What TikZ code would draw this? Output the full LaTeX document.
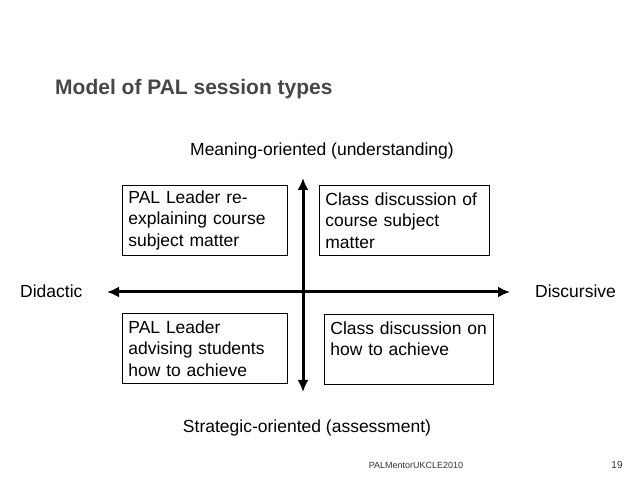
\documentclass[tikz,border=0pt]{standalone}
\usepackage{fontspec}
\setmainfont{Liberation Sans}
\usetikzlibrary{arrows.meta}

\begin{document}
\begin{tikzpicture}[x=1pt, y=-1pt,
  axis/.style={line width=3pt, {Latex[length=12pt,width=11pt]}-{Latex[length=12pt,width=11pt]}},
  label/.style={font=\fontsize{17.5}{21.5}\selectfont, inner sep=0pt},
  quad/.style={draw, line width=0.8pt, anchor=north west, align=left, inner xsep=6pt, inner ysep=4pt,
    minimum height=70pt, font=\fontsize{17.5}{21.5}\selectfont}]
\useasboundingbox[fill=white] (0,0) rectangle (638,478);

% title
\node[anchor=base west, inner sep=0pt, text=black!72, font=\fontsize{21}{25}\selectfont\bfseries] (title) at (55,95) {Model of PAL session types};

% axes
\coordinate (top) at (303,178);
\coordinate (bottom) at (303,392);
\coordinate (left) at (107,292);
\coordinate (right) at (510,292);
\draw[axis] (bottom) -- (top);
\draw[axis] (left) -- (right);

% axis labels
\node[label, anchor=base] (meaning) at (322,156) {Meaning-oriented (understanding)};
\node[label, anchor=base] (strategic) at (307,433) {Strategic-oriented (assessment)};
\node[label, anchor=base west] (didactic) at (20,298) {Didactic};
\node[label, anchor=base west] (discursive) at (535,298) {Discursive};

% quadrants
\node[quad, text width=153pt] (tl) at (122,185) {PAL Leader re-\\explaining course\\subject matter};
\node[quad, text width=158pt] (tr) at (319,185) {Class discussion of\\course subject\\matter};
\node[quad, text width=153pt] (bl) at (122,313) {PAL Leader\\advising students\\how to achieve};
\node[quad, text width=157pt] (br) at (324,314) {Class discussion~on\\how to achieve\\\mbox{}};

% footer
\node[anchor=base, inner sep=0pt, text=black!80, font=\fontsize{9}{11}\selectfont] (footer) at (416,469) {PALMentorUKCLE2010};
\node[anchor=base, inner sep=0pt, text=black!80, font=\fontsize{10}{12}\selectfont] (page) at (617,469) {19};
\end{tikzpicture}
\end{document}
